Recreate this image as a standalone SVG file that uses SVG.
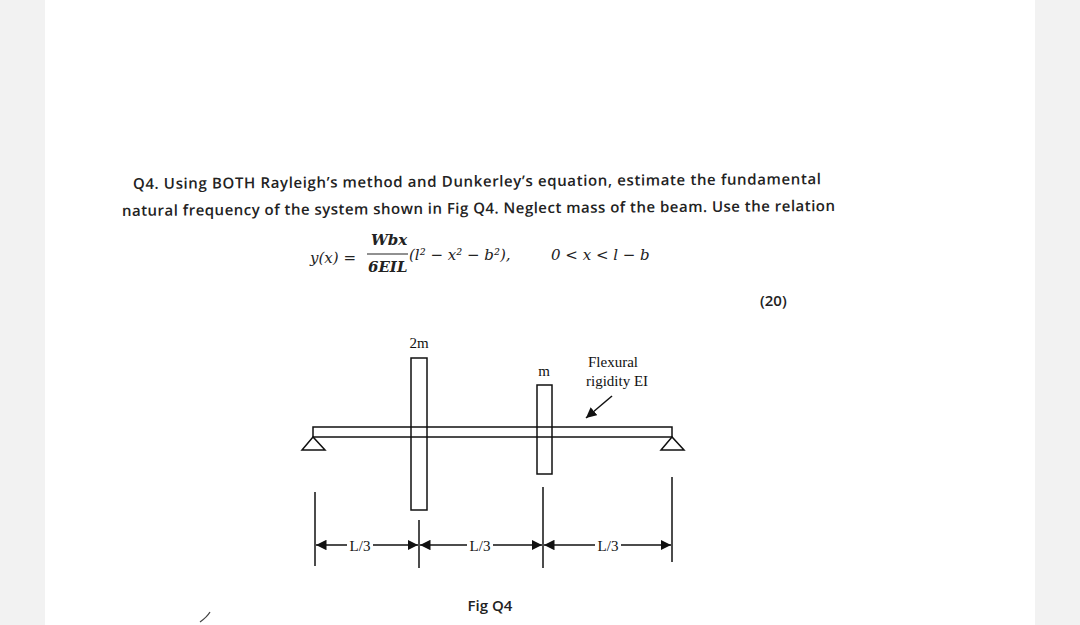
<svg xmlns="http://www.w3.org/2000/svg" width="1080" height="625" viewBox="0 0 1080 625">
<defs>
<style>
.q{font-family:"Open Sans",sans-serif;font-weight:600;font-size:15px;fill:#222}
.m{font-family:"DejaVu Serif",serif;font-style:italic;font-size:15px;fill:#222}
.s{font-family:"Liberation Serif",serif;font-size:15px;fill:#111}
.ln{stroke:#111;stroke-width:1.5;fill:none}
</style>
<marker id="a" viewBox="0 0 10 10" refX="10" refY="5" markerWidth="7" markerHeight="7" orient="auto-start-reverse"><path d="M0,0L10,5L0,10z" fill="#111"/></marker>
</defs>
<rect width="1080" height="625" fill="#f2f2f2"/>
<rect x="45" width="990" height="625" fill="#fff"/>
<g id="question">
<text class="q" x="133" y="189" textLength="688" transform="rotate(-0.4 133 189)">Q4. Using BOTH Rayleigh’s method and Dunkerley’s equation, estimate the fundamental</text>
<text class="q" x="122" y="216" textLength="713" transform="rotate(-0.4 122 216)">natural frequency of the system shown in Fig Q4. Neglect mass of the beam. Use the relation</text>
<text class="m" x="310" y="263" font-size="14">y(x) =</text>
<text class="m" x="371" y="245" font-size="14" font-weight="bold">Wbx</text>
<line x1="367" y1="254" x2="408" y2="254" stroke="#222" stroke-width="1"/>
<text class="m" x="368" y="272" font-size="14" font-weight="bold">6EIL</text>
<text class="m" x="409" y="260" font-size="12">(l² − x² − b²),</text>
<text class="m" x="551" y="260" font-size="12">0 &lt; x &lt; l − b</text>
<text class="q" x="760" y="306" font-size="14">(20)</text>
</g>
<g id="beam"><rect x="313" y="427" width="359" height="10" class="ln"/></g>
<g id="support-left"><path d="M313,437L302,450H325z" class="ln"/></g>
<g id="support-right"><path d="M672,437L661,450H684z" class="ln"/></g>
<g id="disk-2m"><rect x="411" y="358" width="16" height="152" fill="#fff" class="ln"/><text class="s" x="419" y="348" text-anchor="middle" font-size="17">2m</text></g>
<g id="disk-m"><rect x="537" y="385" width="15" height="89" fill="#fff" class="ln"/><text class="s" x="544" y="376" text-anchor="middle" font-size="16">m</text></g>
<g id="label-EI"><text class="s" x="588" y="367" font-size="14">Flexural</text><text class="s" x="586" y="386" font-size="14">rigidity EI</text></g>
<g id="connectors">
<line x1="612" y1="396" x2="586" y2="418" class="ln" marker-end="url(#a)"/>
<line x1="315" y1="492" x2="315" y2="566" class="ln"/>
<line x1="419" y1="520" x2="419" y2="568" class="ln"/>
<line x1="543" y1="487" x2="543" y2="568" class="ln"/>
<line x1="672" y1="477" x2="672" y2="562" class="ln"/>
<line x1="316" y1="545" x2="347" y2="545" class="ln" marker-start="url(#a)"/>
<line x1="373" y1="545" x2="418" y2="545" class="ln" marker-end="url(#a)"/>
<line x1="420" y1="545" x2="467" y2="545" class="ln" marker-start="url(#a)"/>
<line x1="493" y1="545" x2="542" y2="545" class="ln" marker-end="url(#a)"/>
<line x1="544" y1="545" x2="595" y2="545" class="ln" marker-start="url(#a)"/>
<line x1="621" y1="545" x2="671" y2="545" class="ln" marker-end="url(#a)"/>
</g>
<g id="dims">
<text class="s" x="360" y="551" text-anchor="middle" font-size="16">L/3</text>
<text class="s" x="480" y="551" text-anchor="middle" font-size="16">L/3</text>
<text class="s" x="608" y="551" text-anchor="middle" font-size="16">L/3</text>
</g>
<text class="q" x="490" y="611" text-anchor="middle" font-size="14" font-weight="400">Fig Q4</text>
<path d="M200,622Q207,617 210,612" stroke="#444" stroke-width="1.3" fill="none"/>
</svg>
